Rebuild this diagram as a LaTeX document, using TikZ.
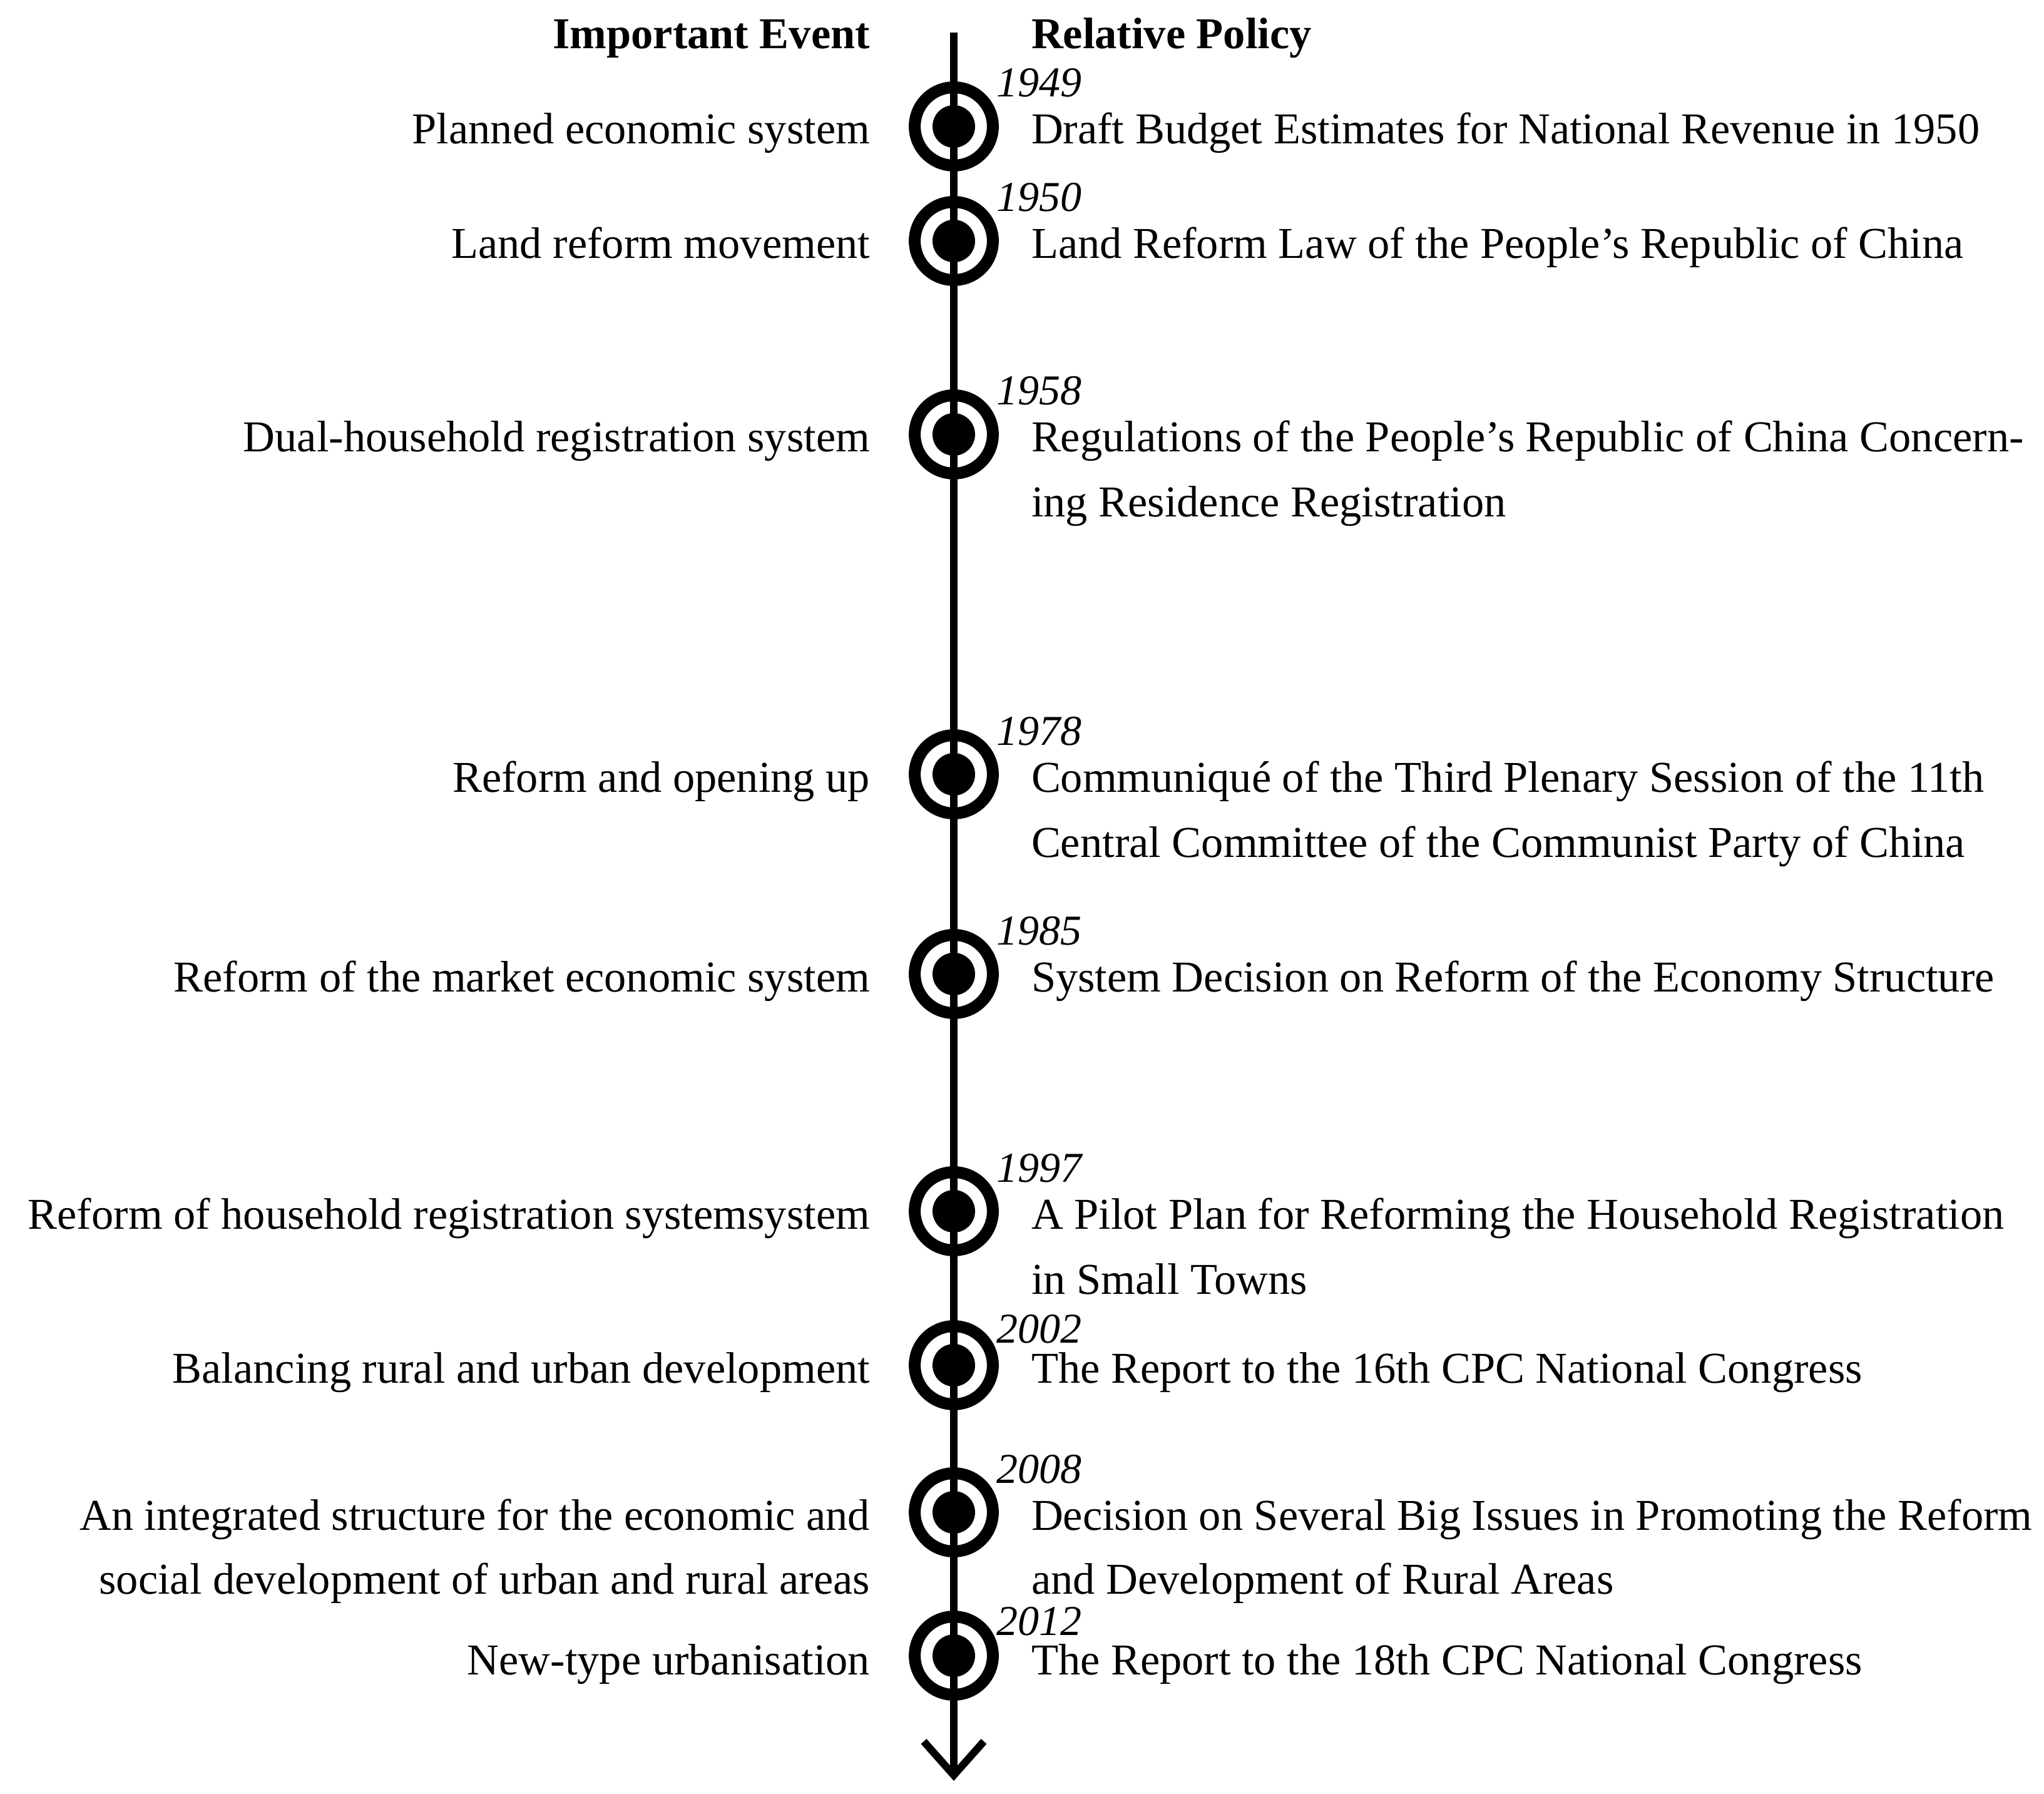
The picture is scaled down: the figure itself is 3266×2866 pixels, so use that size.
\documentclass[tikz,border=0pt]{standalone}
\usepackage{fontspec}
\setmainfont{Liberation Serif}
\usetikzlibrary{arrows.meta}
\begin{document}
\begin{tikzpicture}[x=0.25pt,y=-0.25pt,
  every node/.style={inner sep=0pt,outer sep=0pt,font=\fontsize{17.6pt}{22pt}\selectfont},
  axisline/.style={line width=3pt,-{Straight Barb[length=13.5pt,width=24pt,line width=3pt]}},
  ring/.style={circle,draw,line width=4.75pt,minimum size=31.2pt},
  dotmark/.style={circle,fill,minimum size=17pt},
  yearlbl/.style={anchor=base west,font=\fontsize{17pt}{20pt}\selectfont\itshape},
  eventtxt/.style={anchor=base east},
  policytxt/.style={anchor=base west},
  headtxt/.style={font=\fontsize{17.6pt}{22pt}\selectfont\bfseries}
]
\useasboundingbox (0,0) rectangle (3266,2866);
\fill[white] (0,0) rectangle (3266,2866);

% axis
\coordinate (top) at (1524,52);
\coordinate (bot) at (1524,2845);
\draw[axisline] (top) -- (bot);

% headers
\node[headtxt,anchor=base east] (hevent) at (1390,78) {Important Event};
\node[headtxt,anchor=base west] (hpolicy) at (1648,78) {Relative Policy};

% 1949
\node[ring] (r1949) at (1524,202) {};
\node[dotmark] (d1949) at (r1949.center) {};
\node[yearlbl] (y1949) at (1592,155) {1949};
\node[eventtxt] (e1949) at (1390,230) {Planned economic system};
\node[policytxt] (p1949) at (1648,230) {Draft Budget Estimates for National Revenue in 1950};

% 1950
\node[ring] (r1950) at (1524,385) {};
\node[dotmark] (d1950) at (r1950.center) {};
\node[yearlbl] (y1950) at (1592,338) {1950};
\node[eventtxt] (e1950) at (1390,413) {Land reform movement};
\node[policytxt] (p1950) at (1648,413) {Land Reform Law of the People’s Republic of China};

% 1958
\node[ring] (r1958) at (1524,694) {};
\node[dotmark] (d1958) at (r1958.center) {};
\node[yearlbl] (y1958) at (1592,647) {1958};
\node[eventtxt] (e1958) at (1390,722) {Dual-household registration system};
\node[policytxt] (p1958a) at (1648,722) {Regulations of the People’s Republic of China Concern-};
\node[policytxt] (p1958b) at (1648,826) {ing Residence Registration};

% 1978
\node[ring] (r1978) at (1524,1237) {};
\node[dotmark] (d1978) at (r1978.center) {};
\node[yearlbl] (y1978) at (1592,1190) {1978};
\node[eventtxt] (e1978) at (1390,1265) {Reform and opening up};
\node[policytxt] (p1978a) at (1648,1265) {Communiqué of the Third Plenary Session of the 11th};
\node[policytxt] (p1978b) at (1648,1369) {Central Committee of the Communist Party of China};

% 1985
\node[ring] (r1985) at (1524,1556) {};
\node[dotmark] (d1985) at (r1985.center) {};
\node[yearlbl] (y1985) at (1592,1509) {1985};
\node[eventtxt] (e1985) at (1390,1584) {Reform of the market economic system};
\node[policytxt] (p1985) at (1648,1584) {System Decision on Reform of the Economy Structure};

% 1997
\node[ring] (r1997) at (1524,1935) {};
\node[dotmark] (d1997) at (r1997.center) {};
\node[yearlbl] (y1997) at (1592,1888) {1997};
\node[eventtxt] (e1997) at (1390,1963) {Reform of household registration systemsystem};
\node[policytxt] (p1997a) at (1648,1963) {A Pilot Plan for Reforming the Household Registration};
\node[policytxt] (p1997b) at (1648,2067) {in Small Towns};

% 2002
\node[ring] (r2002) at (1524,2181) {};
\node[dotmark] (d2002) at (r2002.center) {};
\node[yearlbl] (y2002) at (1592,2145) {2002};
\node[eventtxt] (e2002) at (1390,2209) {Balancing rural and urban development};
\node[policytxt] (p2002) at (1648,2209) {The Report to the 16th CPC National Congress};

% 2008
\node[ring] (r2008) at (1524,2416) {};
\node[dotmark] (d2008) at (r2008.center) {};
\node[yearlbl] (y2008) at (1592,2369) {2008};
\node[eventtxt] (e2008a) at (1390,2444) {An integrated structure for the economic and};
\node[eventtxt] (e2008b) at (1390,2546) {social development of urban and rural areas};
\node[policytxt] (p2008a) at (1648,2444) {Decision on Several Big Issues in Promoting the Reform};
\node[policytxt] (p2008b) at (1648,2546) {and Development of Rural Areas};

% 2012
\node[ring] (r2012) at (1524,2645) {};
\node[dotmark] (d2012) at (r2012.center) {};
\node[yearlbl] (y2012) at (1592,2612) {2012};
\node[eventtxt] (e2012) at (1390,2675) {New-type urbanisation};
\node[policytxt] (p2012) at (1648,2675) {The Report to the 18th CPC National Congress};
\end{tikzpicture}
\end{document}
